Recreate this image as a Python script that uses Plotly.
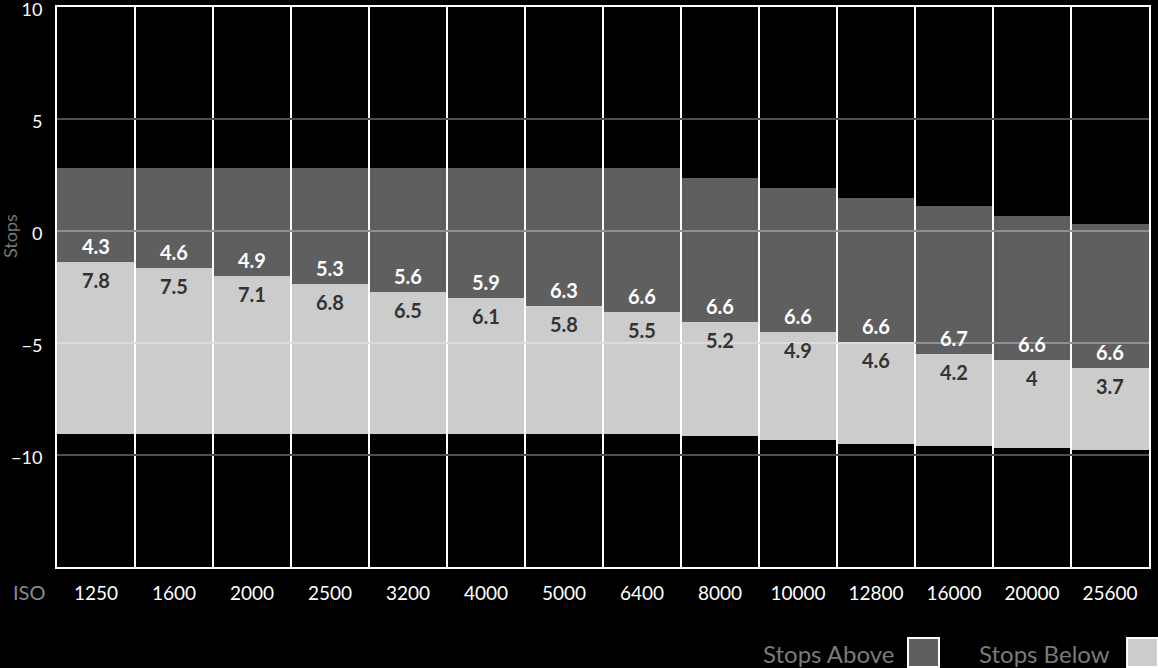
import plotly.graph_objects as go

iso = ["1250", "1600", "2000", "2500", "3200", "4000", "5000",
       "6400", "8000", "10000", "12800", "16000", "20000", "25600"]
stops_above = [4.3, 4.6, 4.9, 5.3, 5.6, 5.9, 6.3, 6.6, 6.6, 6.6, 6.6, 6.7, 6.6, 6.6]
stops_below = [7.8, 7.5, 7.1, 6.8, 6.5, 6.1, 5.8, 5.5, 5.2, 4.9, 4.6, 4.2, 4.0, 3.7]
# range positions (stops relative to middle grey)
range_top = [2.80, 2.80, 2.80, 2.80, 2.80, 2.80, 2.80, 2.80, 2.35, 1.91, 1.46, 1.10, 0.66, 0.30]
mid_split = [-1.39, -1.67, -2.02, -2.38, -2.74, -3.00, -3.36, -3.62, -4.08, -4.52, -4.97, -5.50, -5.77, -6.13]
range_bottom = [-9.08, -9.08, -9.08, -9.08, -9.08, -9.08, -9.08, -9.08, -9.17, -9.35, -9.52, -9.61, -9.70, -9.79]

DARK = "#5f5f5f"
LIGHT = "#cccccc"
FONT = "Lato"

fig = go.Figure()
fig.add_trace(go.Bar(
    x=iso, base=range_bottom,
    y=[m - b for m, b in zip(mid_split, range_bottom)],
    marker=dict(color="rgba(255,255,255,0.8)", line=dict(width=0)),
    name="Stops Below", hoverinfo="skip",
))
fig.add_trace(go.Bar(
    x=iso, base=mid_split,
    y=[t - m for t, m in zip(range_top, mid_split)],
    marker=dict(color="rgba(255,255,255,0.373)", line=dict(width=0)),
    name="Stops Above", hoverinfo="skip",
))

def fmt(v):
    return f"{v:g}"

for i, (m, a, b) in enumerate(zip(mid_split, stops_above, stops_below)):
    fig.add_annotation(x=i, y=m, xref="x", yref="y", text=fmt(a), showarrow=False,
                       yanchor="middle", yshift=16.5,
                       font=dict(family=FONT, size=20, color="#ffffff", weight=700))
    fig.add_annotation(x=i, y=m, xref="x", yref="y", text=fmt(b), showarrow=False,
                       yanchor="middle", yshift=-18,
                       font=dict(family=FONT, size=20, color="#333333", weight=700))

# axis captions
fig.add_annotation(xref="paper", yref="paper", x=0, y=0, xanchor="right", yanchor="top",
                   xshift=-10, yshift=-11, text="ISO", showarrow=False,
                   font=dict(family=FONT, size=20, color="#8a8a8a"))
fig.add_annotation(xref="paper", yref="paper", x=0, y=0.591, xanchor="center", yanchor="middle",
                   xshift=-47, text="Stops", textangle=-90, showarrow=False,
                   font=dict(family=FONT, size=18, color="#777777"))

# legend (text followed by swatch)
for label, color, tx, sx0, sx1 in [("Stops Above", DARK, 0.7683, 0.7793, 0.8077),
                                   ("Stops Below", LIGHT, 0.9661, 0.9799, 1.0082)]:
    fig.add_annotation(xref="paper", yref="paper", x=tx, y=-0.155, xanchor="right",
                       yanchor="middle", text=label, showarrow=False,
                       font=dict(family=FONT, size=24, color="#7a7a7a"))
    fig.add_shape(type="rect", xref="paper", yref="paper", x0=sx0, x1=sx1,
                  y0=-0.1786, y1=-0.1268, fillcolor=color,
                  line=dict(color="#ffffff", width=2))

fig.update_layout(
    width=1158, height=668,
    margin=dict(l=57, r=9, t=7, b=101, autoexpand=False),
    paper_bgcolor="#000000", plot_bgcolor="#000000",
    barmode="overlay", bargap=0,
    showlegend=False,
    font=dict(family=FONT, color="#ffffff"),
)
fig.update_xaxes(
    type="category", tickson="boundaries", ticks="", automargin=False,
    range=[-0.5, len(iso) - 0.5], tickangle=0,
    showgrid=True, gridcolor="#ffffff", gridwidth=2,
    showline=True, mirror=True, linecolor="#ffffff", linewidth=2,
    tickfont=dict(family=FONT, size=19, color="#ffffff"),
    ticklabelstandoff=8,
)
fig.update_yaxes(
    range=[-15, 10], tickvals=[10, 5, 0, -5, -10], automargin=False,
    showgrid=True, gridcolor="#505050", gridwidth=2, zeroline=False,
    showline=True, mirror=True, linecolor="#ffffff", linewidth=2,
    tickfont=dict(family=FONT, size=18, color="#ffffff"),
    ticks="", ticklabelstandoff=9, ticklabeloverflow="allow", ticklabelshift=3,
)

fig.write_html("out.html", config={"displayModeBar": False},
               post_script="document.body.style.margin='0';document.body.style.overflow='hidden';")
